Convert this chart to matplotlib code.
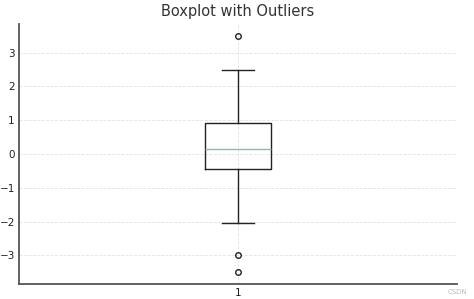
import matplotlib.pyplot as plt

# box statistics
labels = ["1"]
medians = [0.15]
q1s = [-0.44]
q3s = [0.92]
whis_lo = [-2.05]
whis_hi = [2.5]
outliers = [[3.5, -3.0, -3.5]]

stats = [
    {"label": l, "med": m, "q1": a, "q3": b, "whislo": lo, "whishi": hi, "fliers": f}
    for l, m, a, b, lo, hi, f in zip(labels, medians, q1s, q3s, whis_lo, whis_hi, outliers)
]

fig = plt.figure(figsize=(4.74, 2.99), dpi=100)
ax = fig.add_axes([0.040, 0.050, 0.924, 0.870])

ax.bxp(stats,
       boxprops=dict(color="#222222", linewidth=1.0),
       whiskerprops=dict(color="#222222", linewidth=1.0),
       capprops=dict(color="#222222", linewidth=1.0),
       medianprops=dict(color="#7fbfae", linewidth=1.0),
       flierprops=dict(marker="o", markersize=4, markerfacecolor="none",
                       markeredgecolor="#222222", markeredgewidth=1.0))

ax.set_ylim(-3.85, 3.85)
ax.set_yticks([-3, -2, -1, 0, 1, 2, 3])
ax.grid(True, color="#e2e2e2", linestyle="--", linewidth=0.6)
ax.set_axisbelow(True)

for side in ("top", "right"):
    ax.spines[side].set_visible(False)
for side in ("left", "bottom"):
    ax.spines[side].set_color("#555555")
    ax.spines[side].set_linewidth(1.3)
ax.tick_params(length=0, labelsize=7.5, pad=3, colors="#222222")

ax.set_title("Boxplot with Outliers", fontsize=10.5, color="#333333", pad=6)

fig.text(0.985, 0.015, "CSDN", fontsize=5, color="#bbbbbb", ha="right", va="bottom")

fig.savefig("out.png", dpi=100)
